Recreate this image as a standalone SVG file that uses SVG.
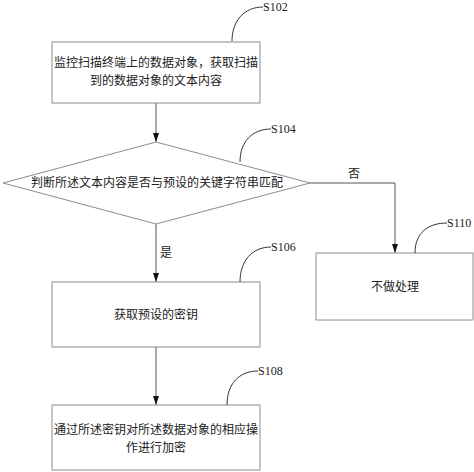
<svg xmlns="http://www.w3.org/2000/svg" width="474" height="472" viewBox="0 0 474 472">
<style>
.box{fill:#fff;stroke:#8c8c8c;stroke-width:1}
.ln{fill:none;stroke:#555;stroke-width:1}
.cv{fill:none;stroke:#333;stroke-width:1}
.t{font-family:"Noto Sans CJK SC","Liberation Serif",serif;font-size:12px;fill:#222;text-anchor:middle}
.s{font-family:"Liberation Serif",serif;font-size:12px;fill:#222}
</style>
<defs>
<marker id="a" markerWidth="9" markerHeight="6" refX="9" refY="3" orient="auto" markerUnits="userSpaceOnUse" viewBox="0 0 9 6">
<path d="M0,0 L9,3 L0,6 Z" fill="#111"/>
</marker>
</defs>
<g id="connectors">
<line class="ln" x1="156" y1="103" x2="156" y2="142" marker-end="url(#a)"/>
<line class="ln" x1="156" y1="224" x2="156" y2="282" marker-end="url(#a)"/>
<polyline class="ln" points="310,183 395,183 395,253" marker-end="url(#a)"/>
<line class="ln" x1="156" y1="347" x2="156" y2="405" marker-end="url(#a)"/>
<text class="t" x="354" y="178">否</text>
<text class="t" x="166" y="257">是</text>
</g>
<g id="S102">
<rect class="box" x="52" y="42" width="208" height="61"/>
<text class="t" x="156" y="67">监控扫描终端上的数据对象，获取扫描</text>
<text class="t" x="156" y="85">到的数据对象的文本内容</text>
<path class="cv" d="M232,41 C232,20 245,7 263,7"/>
<text class="s" x="263" y="11">S102</text>
</g>
<g id="S104">
<polygon class="box" points="156,142 310,183 156,224 3,183"/>
<text class="t" x="157" y="187">判断所述文本内容是否与预设的关键字符串匹配</text>
<path class="cv" d="M240,162 C240,142 252,129 271,129"/>
<text class="s" x="271" y="133">S104</text>
</g>
<g id="S106">
<rect class="box" x="52" y="282" width="208" height="65"/>
<text class="t" x="156" y="319">获取预设的密钥</text>
<path class="cv" d="M240,282 C240,261 252,247 271,247"/>
<text class="s" x="271" y="251">S106</text>
</g>
<g id="S108">
<rect class="box" x="52" y="405" width="208" height="65"/>
<text class="t" x="156" y="434">通过所述密钥对所述数据对象的相应操</text>
<text class="t" x="156" y="452">作进行加密</text>
<path class="cv" d="M227,405 C227,384 239,371 258,371"/>
<text class="s" x="258" y="375">S108</text>
</g>
<g id="S110">
<rect class="box" x="316" y="253" width="157" height="67"/>
<text class="t" x="395" y="291">不做处理</text>
<path class="cv" d="M415,253 C415,233 428,223 447,223"/>
<text class="s" x="447" y="227">S110</text>
</g>
</svg>
